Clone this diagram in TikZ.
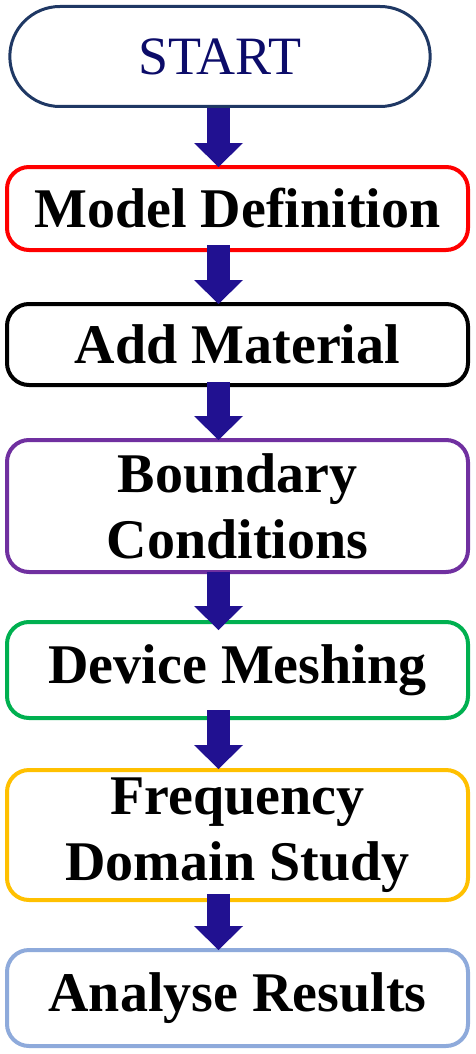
\documentclass[tikz,border=0pt]{standalone}
\usepackage{fontspec}
\setmainfont{Liberation Serif}
\usetikzlibrary{arrows.meta,shapes.misc}

\definecolor{startline}{RGB}{31,56,100}
\definecolor{startnavy}{RGB}{12,12,105}
\definecolor{arrowblue}{RGB}{33,17,145}
\definecolor{modelred}{RGB}{255,0,0}
\definecolor{bcpurple}{RGB}{112,48,160}
\definecolor{meshgreen}{RGB}{0,176,80}
\definecolor{studyorange}{RGB}{255,192,0}
\definecolor{resultblue}{RGB}{142,170,219}

\begin{document}
\begin{tikzpicture}[x=1pt,y=-1pt,
  box/.style={draw,rounded corners=22pt,line width=4pt,fill=white,
    minimum width=461pt,inner sep=0pt,align=center,
    font=\fontsize{56}{66}\selectfont\bfseries},
  flow/.style={-{Triangle[width=49pt,length=24pt,line width=0pt,fill=arrowblue]},
    line width=23pt,color=arrowblue}]

  \useasboundingbox (0,0) rectangle (475,1054);

  \node[rounded rectangle,draw=startline,line width=3pt,minimum width=427pt,
    minimum height=100pt,text=startnavy,font=\fontsize{54}{60}\selectfont] (start) at (220,56.5) {START};
  \node[box,draw=modelred,minimum height=83pt] (model) at (237.5,208.5) {Model Definition};
  \node[box,draw=black,minimum height=81pt] (mat) at (237.5,344.5) {Add Material};
  \node[box,draw=bcpurple,minimum height=132pt] (bc) at (237.5,506) {Boundary\\Conditions};
  \node[box,draw=meshgreen,minimum height=96pt] (mesh) at (237.5,670) {Device Meshing};
  \node[box,draw=studyorange,minimum height=130pt] (study) at (237.5,835) {Frequency\\Domain Study};
  \node[box,draw=resultblue,minimum height=96pt] (result) at (237.5,998) {Analyse Results};

  \coordinate (spine) at (218.5,0);

  \path[flow]
    (spine |- start.south) edge ([yshift=-2pt]spine |- model.north)
    ([yshift=7pt]spine |- model.south) edge ([yshift=-2pt]spine |- mat.north)
    ([yshift=5pt]spine |- mat.south) edge ([yshift=-2pt]spine |- bc.north)
    ([yshift=2pt]spine |- bc.south) edge ([yshift=-10pt]spine |- mesh.north)
    ([yshift=10pt]spine |- mesh.south) edge ([yshift=-1pt]spine |- study.north)
    ([yshift=8pt]spine |- study.south) edge ([yshift=-2pt]spine |- result.north)
    ;

\end{tikzpicture}
\end{document}
